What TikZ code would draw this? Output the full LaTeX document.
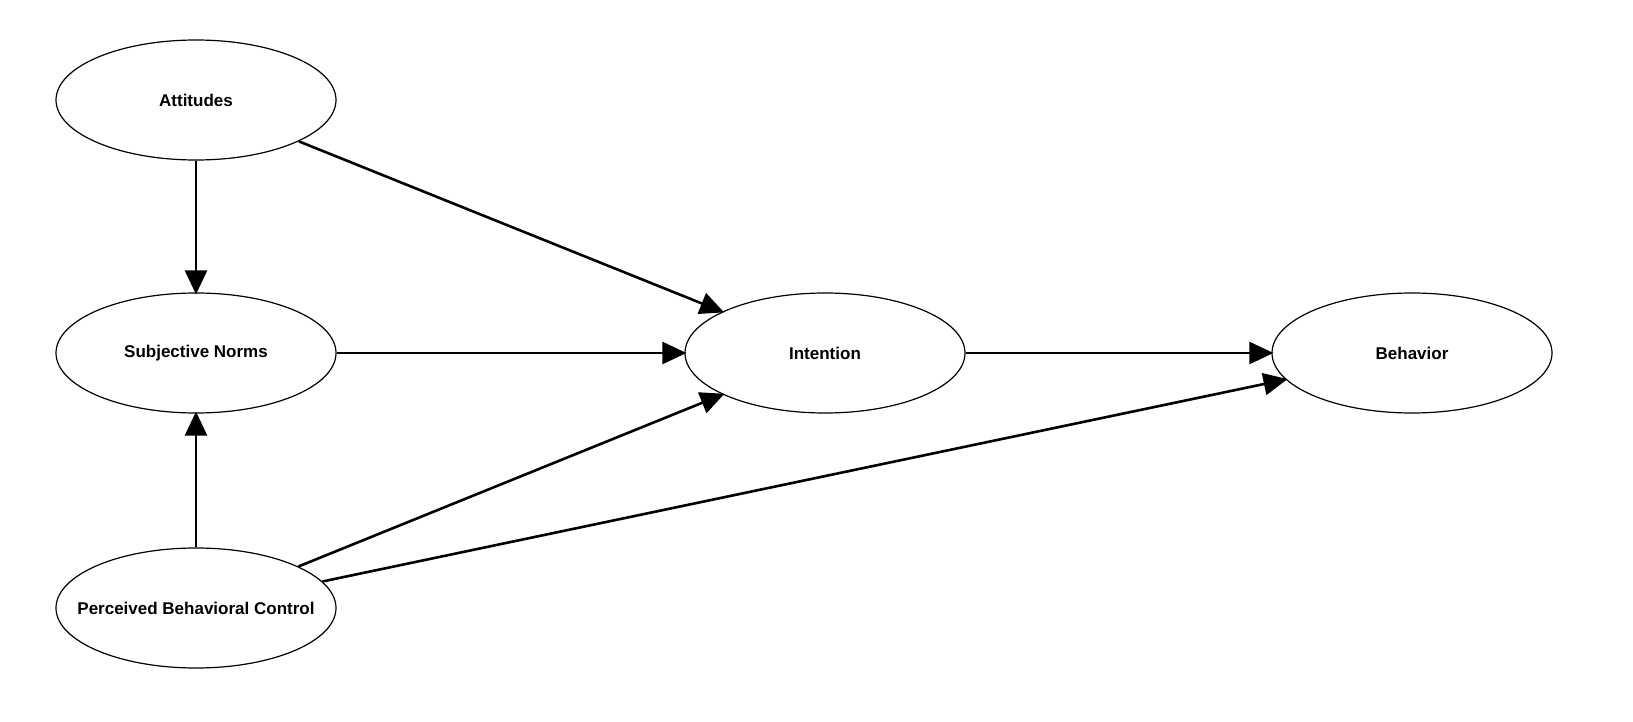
\documentclass[tikz,border=0pt]{standalone}
\usepackage{fontspec}
\setmainfont{Liberation Sans}
\usetikzlibrary{shapes.geometric,arrows.meta}
\begin{document}
\begin{tikzpicture}[x=1pt,y=-1pt,
  ell/.style={ellipse,draw,line width=1.2pt,minimum width=280pt,minimum height=120pt,inner sep=0pt,font=\bfseries\fontsize{17}{20}\selectfont},
  conn/.style={line width=2.6pt,-{Triangle[length=24pt,width=22pt]},shorten >=-2pt}]
\useasboundingbox (0,0) rectangle (1633,722);
\node[ell] (att) at (196,100) {Attitudes};
\node[ell] (sn) at (196,353) {Subjective Norms};
\node[ell,inner xsep=-75pt] (pbc) at (196,608) {Perceived Behavioral Control};
\node[ell] (int) at (825,353) {Intention};
\node[ell] (beh) at (1412,353) {Behavior};
\draw[conn] (att) -- (sn);
\draw[conn] (att) -- (int);
\draw[conn] (sn) -- (int);
\draw[conn] (pbc) -- (sn);
\draw[conn] (pbc) -- (int);
\draw[conn] (pbc) -- (beh);
\draw[conn] (int) -- (beh);
\end{tikzpicture}
\end{document}
